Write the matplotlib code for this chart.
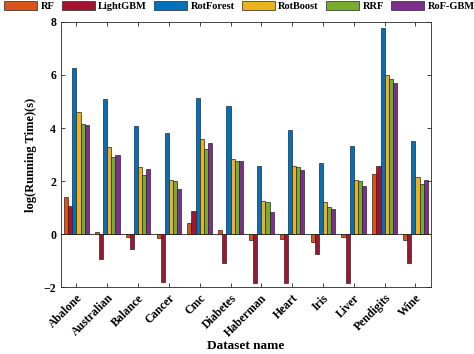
import numpy as np
import matplotlib
matplotlib.use("Agg")
import matplotlib.pyplot as plt

# 数据
datasets = ["Abalone", "Australian", "Balance", "Cancer", "Cmc", "Diabetes",
            "Haberman", "Heart", "Iris", "Liver", "Pendigits", "Wine"]
methods = ["RF", "LightGBM", "RotForest", "RotBoost", "RRF", "RoF-GBM"]
rf = [1.41, 0.06, -0.12, -0.15, 0.40, 0.14, -0.23, -0.20, -0.29, -0.12, 2.28, -0.23]
lightgbm = [1.06, -0.95, -0.58, -1.80, 0.86, -1.08, -1.84, -1.84, -0.75, -1.84, 2.58, -1.08]
rotforest = [6.28, 5.08, 4.09, 3.82, 5.13, 4.84, 2.58, 3.94, 2.67, 3.32, 7.77, 3.51]
rotboost = [4.62, 3.28, 2.53, 2.04, 3.57, 2.82, 1.26, 2.58, 1.21, 2.04, 5.99, 2.15]
rrf = [4.16, 2.91, 2.24, 1.99, 3.22, 2.75, 1.22, 2.54, 1.01, 1.99, 5.86, 1.89]
rofgbm = [4.11, 2.98, 2.45, 1.70, 3.45, 2.77, 0.83, 2.40, 0.94, 1.80, 5.69, 2.04]

series = [rf, lightgbm, rotforest, rotboost, rrf, rofgbm]
colors = ["#D95319", "#A2142F", "#0072BD", "#EDB120", "#77AC30", "#7E2F8E"]

plt.rcParams["font.family"] = ["Liberation Serif", "DejaVu Serif"]
plt.rcParams["font.weight"] = "bold"

fig = plt.figure(figsize=(4.74, 3.54), dpi=100)
ax = fig.add_axes([0.1287, 0.189, 0.7803, 0.749])

x = np.arange(1, len(datasets) + 1)
n = len(series)
w = 0.8 / n
for i, (vals, c, name) in enumerate(zip(series, colors, methods)):
    ax.bar(x + (i - (n - 1) / 2) * w, vals, width=w, color=c,
           edgecolor="#262626", linewidth=0.5, label=name)

ax.axhline(0, color="#262626", linewidth=0.6)
ax.set_xlim(0.5, 12.5)
ax.set_ylim(-2, 8)
ax.set_yticks([-2, 0, 2, 4, 6, 8])
ax.set_xticks(x)
ax.set_xticklabels(datasets, rotation=45, ha="right", rotation_mode="anchor",
                   fontsize=8.5, fontweight="bold")
ax.tick_params(axis="both", direction="in", top=True, right=True,
               length=3, width=0.6, labelsize=8.5, color="#262626")
for lab in ax.get_yticklabels():
    lab.set_fontweight("bold")
for s in ax.spines.values():
    s.set_color("#262626")
    s.set_linewidth(0.6)

ax.set_ylabel("log(Running Time)(s)", fontsize=9, fontweight="bold", labelpad=5)
ax.set_xlabel("Dataset name", fontsize=9.5, fontweight="bold", labelpad=1)

fig.legend(loc="upper left", bbox_to_anchor=(3 / 474, 1.0), ncol=6, frameon=False,
           borderpad=0.1, borderaxespad=0,
           handlelength=3.2, handleheight=0.9, handletextpad=0.3,
           columnspacing=0.7, prop={"size": 7.5, "weight": "bold"})

fig.savefig("out.png", dpi=100)
